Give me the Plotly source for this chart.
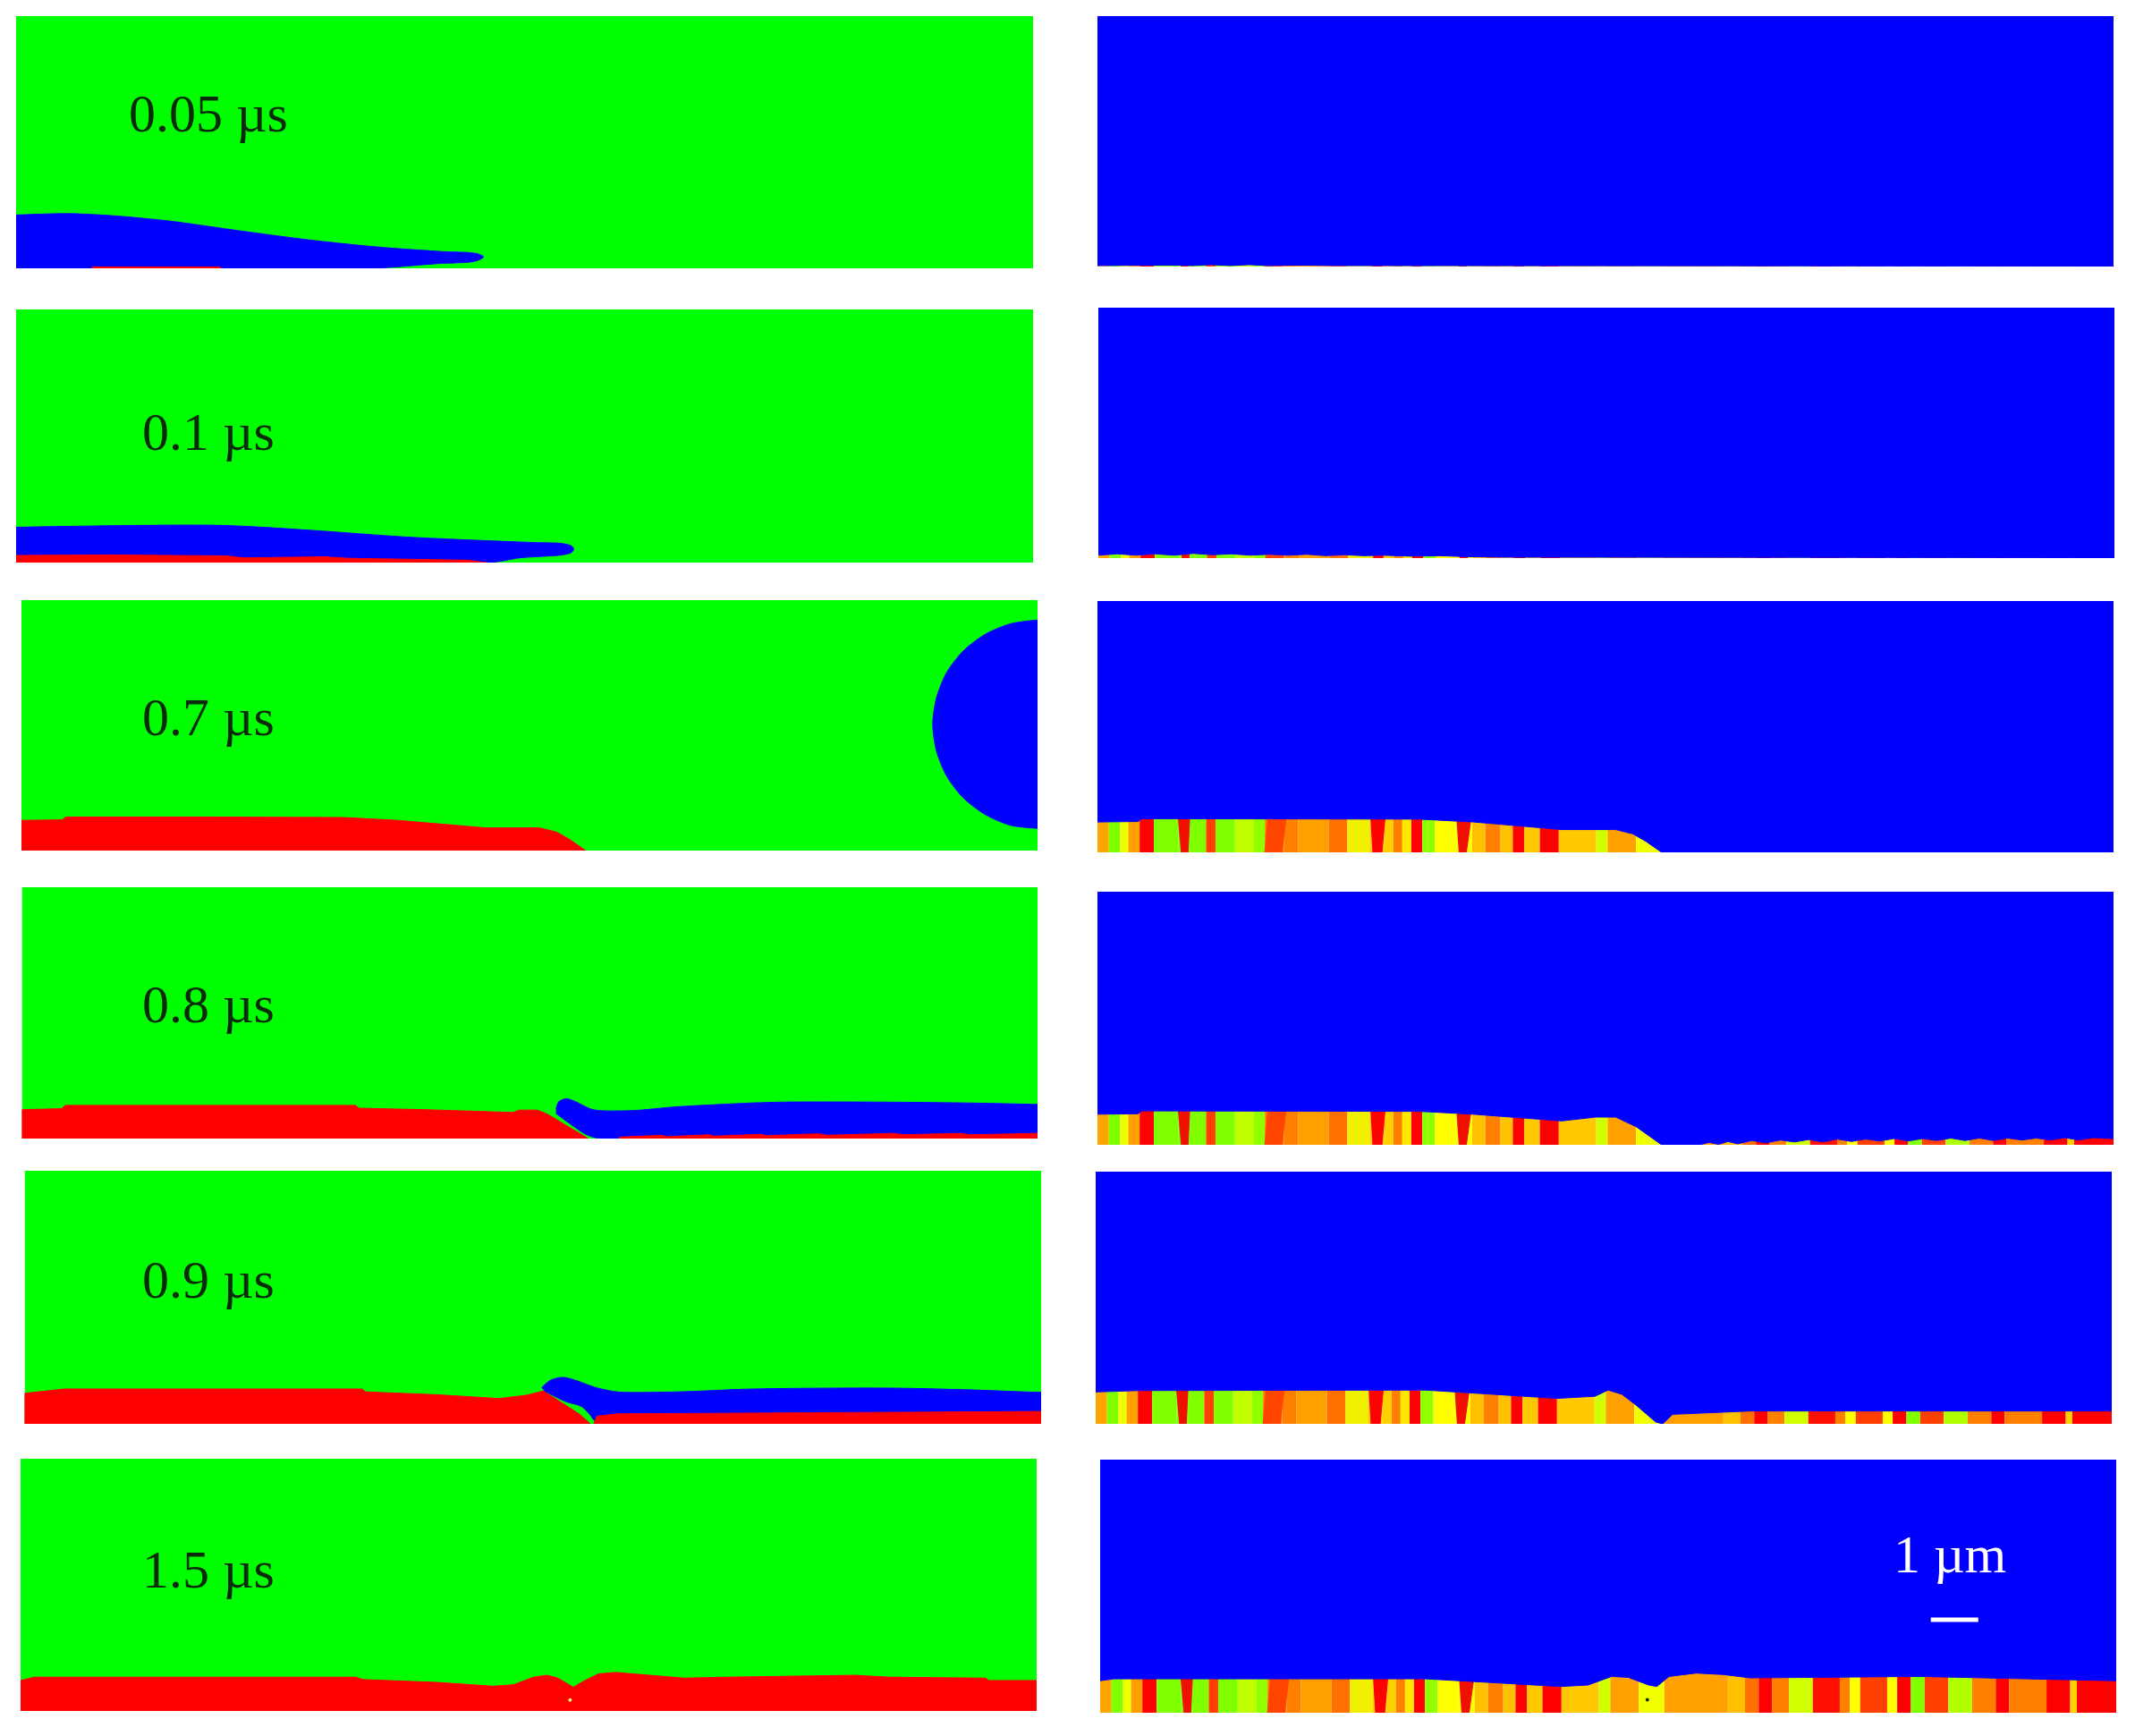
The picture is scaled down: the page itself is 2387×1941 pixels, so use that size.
import numpy as np
import plotly.graph_objects as go

# frames in pixels of the page (left column then right column)
frame_left = [18, 18, 24, 24.5, 27.5, 23, 1227, 1228, 1227, 1227, 1225, 1230]
frame_right = [1155, 1155, 1160, 1160, 1164, 1159, 2363, 2364, 2363, 2363, 2361, 2366]
frame_top = [18, 346, 671, 992, 1309, 1631, 18, 344, 672, 997, 1310, 1632]
frame_bottom = [300, 629, 951, 1273, 1592, 1913, 298, 624, 953, 1280, 1592, 1915]
page_w = 2387
page_h = 1941

# everything below is in micrometres, the scale bar gives 53 px per um
domain_w = 21.43
domain_h = 5.3

labels = ["0.05 µs", "0.1 µs", "0.7 µs", "0.8 µs", "0.9 µs", "1.5 µs"]
label_x = [4.06, 4.06, 3.94, 3.94, 3.88, 3.96]
label_y = [3.26, 2.73, 2.82, 2.82, 3.01, 2.97]

# left column, drop and solid outlines (right ends run past the frame and get clipped)
drop1_x = [0, 1.10, 2.11, 3.26, 4.70, 6.15, 7.59, 9.03, 9.55, 9.74, 9.85, 9.74, 9.55, 8.89, 7.88, 7.45, 0]
drop1_y = [1.12, 1.15, 1.10, 0.99, 0.79, 0.60, 0.45, 0.35, 0.33, 0.30, 0.24, 0.17, 0.13, 0.10, 0.02, 0, 0]
red1_x = [1.6, 4.3, 4.3, 1.6]
red1_y = [0, 0, 0.03, 0.03]

drop2_x = [0, 4.27, 6.15, 8.31, 10.9, 11.5, 11.7, 11.75, 11.7, 11.5, 10.62, 9.97, 0]
drop2_y = [0.74, 0.78, 0.68, 0.53, 0.42, 0.40, 0.35, 0.28, 0.21, 0.16, 0.10, 0, 0]
red2_x = [0, 2, 4.4, 4.8, 6.5, 7.0, 9.5, 9.9, 0]
red2_y = [0.15, 0.16, 0.14, 0.10, 0.12, 0.09, 0.05, 0, 0]

bubble_x = [21.43, 20.86, 20.33, 19.87, 19.52, 19.30, 19.22, 19.30, 19.52, 19.87, 20.33, 20.86, 21.43]
bubble_y = [4.88, 4.80, 4.58, 4.23, 3.78, 3.24, 2.67, 2.10, 1.565, 1.11, 0.76, 0.535, 0.47]

film3_x = [0, 0.86, 0.93, 3.79, 6.79, 7.93, 8.79, 9.79, 10.93, 11.29, 11.57, 11.9]
film3_y = [0.64, 0.65, 0.71, 0.71, 0.70, 0.64, 0.57, 0.48, 0.48, 0.39, 0.23, 0]

film4_x = [0, 0.84, 0.91, 7.04, 7.11, 8.48, 10.36, 10.5, 10.87, 11.08, 11.95]
film4_y = [0.61, 0.63, 0.70, 0.70, 0.64, 0.61, 0.55, 0.60, 0.60, 0.52, 0]
drop4_x = [11.27, 11.33, 11.49, 11.68, 12.05, 12.87, 13.82, 15.39, 16.13, 18.0, 20.03, 21.43, 23.0,
           23.0, 12.2, 11.9, 11.61, 11.27]
drop4_y = [0.62, 0.78, 0.84, 0.78, 0.61, 0.59, 0.67, 0.75, 0.77, 0.77, 0.75, 0.72, 0.70,
           0, 0, 0.09, 0.28, 0.53]
under4_x = [12.6, 13.5, 13.6, 14.5, 14.6, 15.6, 15.7, 16.8, 17.0, 18.4, 18.6, 19.8, 20.0, 21.43, 21.43, 12.6]
under4_y = [0.03, 0.07, 0.04, 0.08, 0.05, 0.09, 0.06, 0.10, 0.07, 0.11, 0.08, 0.11, 0.08, 0.11, 0, 0]

film5_x = [0, 0.84, 7.11, 7.19, 8.7, 10.0, 10.58, 10.94, 11.35, 11.7, 11.93]
film5_y = [0.64, 0.73, 0.73, 0.67, 0.61, 0.53, 0.60, 0.69, 0.43, 0.20, 0]
drop5_x = [10.9, 11.08, 11.34, 11.62, 12.06, 12.5, 13.76, 15.34, 18.2, 20.0, 21.43, 23.0,
           23.0, 21.43, 12.5, 12.16, 12.03, 11.92, 11.75, 11.4, 10.96]
drop5_y = [0.755, 0.91, 0.975, 0.91, 0.755, 0.67, 0.67, 0.73, 0.75, 0.71, 0.66, 0.64,
           0.1, 0.1, 0.1, 0.14, 0.06, 0.19, 0.36, 0.47, 0.69]
under5_x = [12.0, 12.06, 12.5, 21.43, 21.43, 12.0]
under5_y = [0, 0.16, 0.21, 0.26, 0, 0]

film6_x = [0, 0.29, 7.07, 7.22, 8.8, 9.96, 10.39, 10.82, 11.11, 11.33, 11.66, 11.9, 12.19, 12.55,
           13.42, 14.0, 14.86, 17.6, 18.33, 20.35, 20.42, 21.43]
film6_y = [0.64, 0.71, 0.71, 0.66, 0.6, 0.52, 0.55, 0.71, 0.75, 0.69, 0.5, 0.64, 0.78, 0.81,
           0.73, 0.69, 0.71, 0.75, 0.71, 0.69, 0.64, 0.64]
speck6_x = [11.59]
speck6_y = [0.23]

# grains along the substrate, same for all panels of the right column
grain_edges = [0, 0.24, 0.48, 0.65, 0.89, 1.19, 1.71, 1.96, 2.29, 2.49, 2.90, 3.30, 3.53, 3.93,
               4.23, 4.88, 5.27, 5.74, 6.04, 6.24, 6.43, 6.62, 6.85, 7.12, 7.55, 7.90, 8.18, 8.50,
               8.76, 9.0, 9.33, 9.73, 10.52, 10.76, 11.36, 11.9, 13.24, 13.6, 13.89, 14.17, 14.53,
               15.03, 15.6, 15.81, 16.03, 16.6, 16.81, 17.1, 17.39, 17.89, 18.39, 18.89, 19.17,
               19.96, 20.46, 20.6, 21.43]
grain_colors = ["#FFA500", "#80FF00", "#F0FF00", "#FFA000", "#FF0000", "#80FF00", "#80FF00", "#80FF00",
                "#FF4000", "#80FF00", "#C0FF00", "#90FF00", "#FF8000", "#FF8000", "#FFA000", "#FF7000",
                "#F0F000", "#FFD000", "#FFD000", "#FF8000", "#FFE800", "#FF0000", "#90FF00", "#FFFF00",
                "#FFFF00", "#FFC000", "#FF8000", "#FFC000", "#FF0000", "#FFC800", "#FF0000", "#FFC800",
                "#D0FF00", "#FFA000", "#F0FF00", "#FFA000", "#FFC000", "#FF7000", "#FF0000", "#FF8000",
                "#D0FF00", "#FF1000", "#FF8000", "#FFFF00", "#FF4000", "#FFFF00", "#FF0000", "#80FF00",
                "#FF4000", "#B0FF00", "#FF8000", "#FF0000", "#FF8000", "#FF0000", "#FFD000", "#FF0000"]

# grains that lean or narrow towards the substrate
taper_top_left = [1.67, 3.61, 5.74, 7.55, 9.33]
taper_top_right = [1.96, 4.01, 6.09, 7.92, 9.73]
taper_bottom_left = [1.76, 3.52, 5.80, 7.62, 9.37]
taper_bottom_right = [1.91, 3.89, 6.00, 7.78, 9.67]
taper_colors = ["#F01000", "#FF4500", "#FF0000", "#F01000", "#FF0000"]

# top of the film in the right column, blue is everything above it
top1_x = [0, 1.0, 1.3, 1.6, 2.0, 2.4, 2.8, 3.2, 3.6, 4.2, 5.0, 6.0, 8.0, 21.43]
top1_y = [0.02, 0.03, 0.02, 0.03, 0.02, 0.04, 0.02, 0.04, 0.02, 0.03, 0.02, 0.02, 0.01, 0.01]

top2_x = [0, 0.4, 0.8, 1.2, 1.6, 2.0, 2.4, 2.8, 3.2, 3.6, 4.0, 4.4, 4.8, 5.2, 5.6, 6.0, 6.6, 7.2, 7.8, 8.6, 21.43]
top2_y = [0.06, 0.09, 0.06, 0.09, 0.06, 0.10, 0.07, 0.09, 0.06, 0.08, 0.06, 0.08, 0.05, 0.07, 0.05, 0.06, 0.04, 0.05, 0.03, 0.02, 0.01]

top3_x = [0, 0.86, 0.93, 3.79, 6.79, 7.93, 8.79, 9.79, 10.93, 11.29, 11.57, 11.9, 21.43]
top3_y = [0.64, 0.65, 0.71, 0.71, 0.70, 0.64, 0.57, 0.48, 0.48, 0.39, 0.23, 0, 0]

top4_x = [0, 0.86, 0.93, 3.79, 6.79, 7.93, 8.79, 9.79, 10.5, 10.93, 11.36, 11.9, 12.7, 12.9, 13.1, 13.3, 13.5,
          13.8, 14.1, 14.4, 14.7, 15.0, 15.3, 15.6, 15.9, 16.2, 16.5, 16.8, 17.1, 17.4, 17.7, 18.0, 18.3,
          18.6, 18.9, 19.2, 19.5, 19.8, 20.1, 20.4, 20.7, 21.0, 21.43]
top4_y = [0.64, 0.65, 0.71, 0.71, 0.70, 0.64, 0.57, 0.50, 0.58, 0.58, 0.38, 0, 0.0, 0.05, 0.01, 0.07, 0.02,
          0.09, 0.04, 0.10, 0.06, 0.11, 0.06, 0.12, 0.07, 0.12, 0.08, 0.13, 0.08, 0.13, 0.09, 0.14, 0.09,
          0.14, 0.09, 0.14, 0.10, 0.14, 0.10, 0.15, 0.10, 0.15, 0.13]

top5_x = [0, 0.89, 6.96, 7.96, 9.53, 9.74, 10.53, 10.81, 11.1, 11.39, 11.81, 11.96, 12.17, 13.81, 15.24, 21.46]
top5_y = [0.67, 0.70, 0.71, 0.65, 0.55, 0.535, 0.58, 0.71, 0.62, 0.40, 0.04, 0, 0.2, 0.27, 0.27, 0.27]

top6_x = [0, 0.29, 6.86, 8, 8.71, 9.71, 10.29, 10.79, 11.14, 11.57, 11.74, 12, 12.57, 13.14, 13.71, 15.14, 17.29, 20, 21.43]
top6_y = [0.67, 0.71, 0.71, 0.65, 0.61, 0.55, 0.58, 0.76, 0.74, 0.58, 0.55, 0.76, 0.83, 0.80, 0.73, 0.74, 0.76, 0.70, 0.67]
speck12_x = [11.54]
speck12_y = [0.27]

bar_x = [17.52, 18.52]
bar_y = [1.95, 1.95]
bar_label_x = 17.92
bar_label_y = 3.31

GREEN = "#00FF00"
BLUE = "#0000FF"
RED = "#FF0000"

fig = go.Figure()


def patch(n, xs, ys, color, smooth=False):
    fig.add_trace(go.Scatter(
        x=xs, y=ys, mode="lines", fill="toself", fillcolor=color,
        line=dict(color=color, width=1, shape="spline" if smooth else "linear", smoothing=0.8),
        xaxis=f"x{n}", yaxis=f"y{n}", hoverinfo="skip", showlegend=False,
    ))


def solid(n, xs, ys, color):
    # area under an outline that starts and ends on the substrate
    patch(n, [xs[0]] + list(xs) + [xs[-1]], [0] + list(ys) + [0], color)


def speck(n, xs, ys, color):
    fig.add_trace(go.Scatter(
        x=xs, y=ys, mode="markers", marker=dict(color=color, size=4),
        xaxis=f"x{n}", yaxis=f"y{n}", hoverinfo="skip", showlegend=False,
    ))


whole_x = [0, domain_w, domain_w, 0]
whole_y = [0, 0, domain_h, domain_h]

for i in range(6):
    patch(i + 1, whole_x, whole_y, GREEN)

patch(1, drop1_x, drop1_y, BLUE, smooth=True)
patch(1, red1_x, red1_y, RED)
patch(2, drop2_x, drop2_y, BLUE, smooth=True)
patch(2, red2_x, red2_y, RED)
solid(3, film3_x, film3_y, RED)
patch(3, bubble_x, bubble_y, BLUE, smooth=True)
solid(4, film4_x, film4_y, RED)
patch(4, drop4_x, drop4_y, BLUE, smooth=True)
patch(4, under4_x, under4_y, RED)
solid(5, film5_x, film5_y, RED)
patch(5, drop5_x, drop5_y, BLUE, smooth=True)
patch(5, under5_x, under5_y, RED)
solid(6, film6_x, film6_y, RED)
speck(6, speck6_x, speck6_y, "#E8F080")

grain_left = np.array(grain_edges[:-1])
grain_width = np.diff(grain_edges)
tops = [(top1_x, top1_y), (top2_x, top2_y), (top3_x, top3_y),
        (top4_x, top4_y), (top5_x, top5_y), (top6_x, top6_y)]
for i, (tx, ty) in enumerate(tops):
    n = i + 7
    fig.add_trace(go.Bar(
        x=grain_left, y=[1.0] * len(grain_left), width=grain_width, offset=0,
        marker=dict(color=grain_colors, line=dict(width=0)),
        xaxis=f"x{n}", yaxis=f"y{n}", hoverinfo="skip", showlegend=False,
    ))
    for j, col in enumerate(taper_colors):
        patch(n, [taper_bottom_left[j], taper_bottom_right[j], taper_top_right[j], taper_top_left[j]],
              [0, 0, 1.0, 1.0], col)
    patch(n, list(tx) + [domain_w, 0], list(ty) + [domain_h, domain_h], BLUE)
speck(12, speck12_x, speck12_y, "#103010")

fig.add_trace(go.Scatter(
    x=bar_x, y=bar_y, mode="lines", line=dict(color="white", width=5),
    xaxis="x12", yaxis="y12", hoverinfo="skip", showlegend=False,
))

layout = dict(
    width=page_w, height=page_h, margin=dict(l=0, r=0, t=0, b=0),
    paper_bgcolor="white", plot_bgcolor="white", showlegend=False, barmode="overlay",
    annotations=[],
)
for i in range(12):
    n = i + 1
    layout[f"xaxis{n}"] = dict(
        domain=[frame_left[i] / page_w, frame_right[i] / page_w],
        range=[0, domain_w], visible=False, anchor=f"y{n}", fixedrange=True,
    )
    layout[f"yaxis{n}"] = dict(
        domain=[1 - frame_bottom[i] / page_h, 1 - frame_top[i] / page_h],
        range=[0, domain_h], visible=False, anchor=f"x{n}", fixedrange=True,
    )

for i, txt in enumerate(labels):
    layout["annotations"].append(dict(
        x=label_x[i], y=label_y[i], xref=f"x{i + 1}", yref=f"y{i + 1}", text=txt, showarrow=False,
        font=dict(family="Liberation Serif", size=60, color="#0A2A0A"),
    ))
layout["annotations"].append(dict(
    x=bar_label_x, y=bar_label_y, xref="x12", yref="y12", text="1 µm", showarrow=False,
    font=dict(family="Liberation Serif", size=60, color="white"),
))

fig.update_layout(**layout)
fig.write_html("out.html", config=dict(displayModeBar=False),
               post_script="document.body.style.margin='0';")
